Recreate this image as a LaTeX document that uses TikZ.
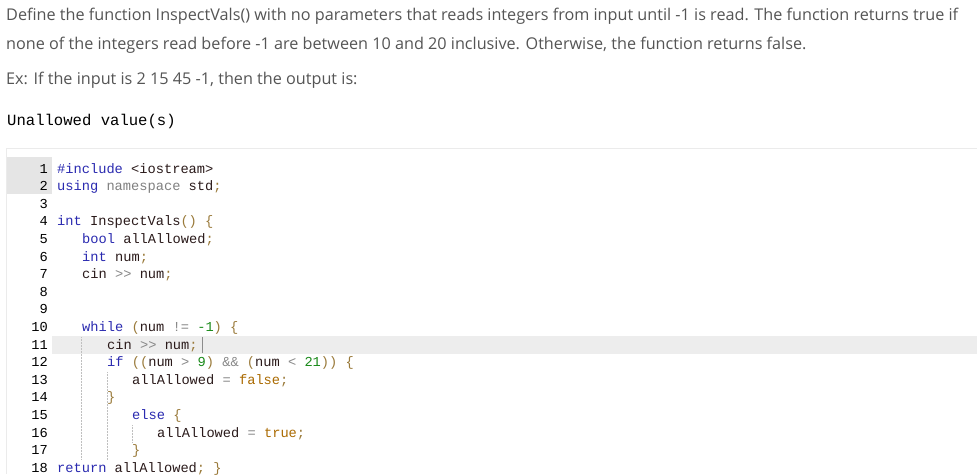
\documentclass[tikz,border=0pt]{standalone}
\usepackage{fontspec}
\setmainfont{Open Sans}
\setmonofont{Liberation Mono}
\definecolor{txt}{HTML}{555555}
\definecolor{kw}{HTML}{2A2AB0}
\definecolor{ns}{HTML}{808080}
\definecolor{pn}{HTML}{9A7A3A}
\definecolor{op}{HTML}{888888}
\definecolor{nm}{HTML}{1A8A1A}
\definecolor{bl}{HTML}{AA6A00}
\definecolor{idc}{HTML}{2A1A1A}
\newcommand{\K}[1]{\textcolor{kw}{#1}}
\newcommand{\N}[1]{\textcolor{ns}{#1}}
\newcommand{\PP}[1]{\textcolor{pn}{#1}}
\newcommand{\OO}[1]{\textcolor{op}{#1}}
\newcommand{\NN}[1]{\textcolor{nm}{#1}}
\newcommand{\B}[1]{\textcolor{bl}{#1}}
\begin{document}
\begin{tikzpicture}[x=1pt,y=-1pt,
  prose/.style={anchor=base west,inner sep=0pt,text=txt,font=\fontsize{16.2}{19}\selectfont},
  code/.style={anchor=base west,inner sep=0pt,text=idc,font=\ttfamily\fontsize{13.7}{16}\selectfont},
  lno/.style={anchor=base east,inner sep=0pt,text=black,font=\ttfamily\fontsize{13.7}{16}\selectfont},
  guide/.style={draw=black!25,densely dotted,line width=0.5pt}]
\useasboundingbox (0,0) rectangle (977,474);
\fill[white] (0,0) rectangle (977,474);
\node[prose] (p1) at (6,20) {Define the function InspectVals() with no parameters that reads integers from input until -1 is read. The function returns true if};
\node[prose] (p2) at (6,49) {none of the integers read before -1 are between 10 and 20 inclusive. Otherwise, the function returns false.};
\node[prose] (p3) at (6,84) {Ex: If the input is 2 15 45 -1, then the output is:};
\node[code,text=black,font=\ttfamily\fontsize{15.6}{18}\selectfont] (out) at (7,125) {Unallowed value(s)};
% code box
\draw[black!8] (6,474) -- (6,148) -- (977,148);
\fill[black!10] (6.5,157) rectangle (52,194);
\fill[black!7] (52,336) rectangle (977,354);
\draw[black!45] (202.5,337) -- (202.5,353);
\foreach \i in {1,...,18} {
  \node[lno] (l\i) at (48,{173+(\i-1)*17.6}) {\i};
}
\def\L#1{{173+(#1-1)*17.6}}
\node[code] (c1) at (57,\L1) {\K{\#include} <iostream>};
\node[code] (c2) at (57,\L2) {\K{using} \N{namespace} std\PP{;}};
\node[code] (c4) at (57,\L4) {\K{int} InspectVals\PP{()} \PP{\{}};
\node[code] (c5) at (82,\L5) {\K{bool} allAllowed\PP{;}};
\node[code] (c6) at (82,\L6) {\K{int} num\PP{;}};
\node[code] (c7) at (82,\L7) {cin \OO{>>} num\PP{;}};
\node[code] (c10) at (82,\L{10}) {\K{while} \PP{(}num \OO{!=} \NN{-1}\PP{)} \PP{\{}};
\node[code] (c11) at (107,\L{11}) {cin \OO{>>} num\PP{;}};
\node[code] (c12) at (107,\L{12}) {\K{if} \PP{((}num \OO{>} \NN{9}\PP{)} \OO{\&\&} \PP{(}num \OO{<} \NN{21}\PP{))} \PP{\{}};
\node[code] (c13) at (132,\L{13}) {allAllowed \OO{=} \B{false}\PP{;}};
\node[code] (c14) at (107,\L{14}) {\PP{\}}};
\node[code] (c15) at (132,\L{15}) {\K{else} \PP{\{}};
\node[code] (c16) at (157,\L{16}) {allAllowed \OO{=} \B{true}\PP{;}};
\node[code] (c17) at (132,\L{17}) {\PP{\}}};
\node[code] (c18) at (57,\L{18}) {\K{return} allAllowed\PP{;} \PP{\}}};
\draw[guide] (81,337) -- (81,460);
\draw[guide] (107,372) -- (107,460);
\draw[guide] (132,425) -- (132,443);
\end{tikzpicture}
\end{document}
